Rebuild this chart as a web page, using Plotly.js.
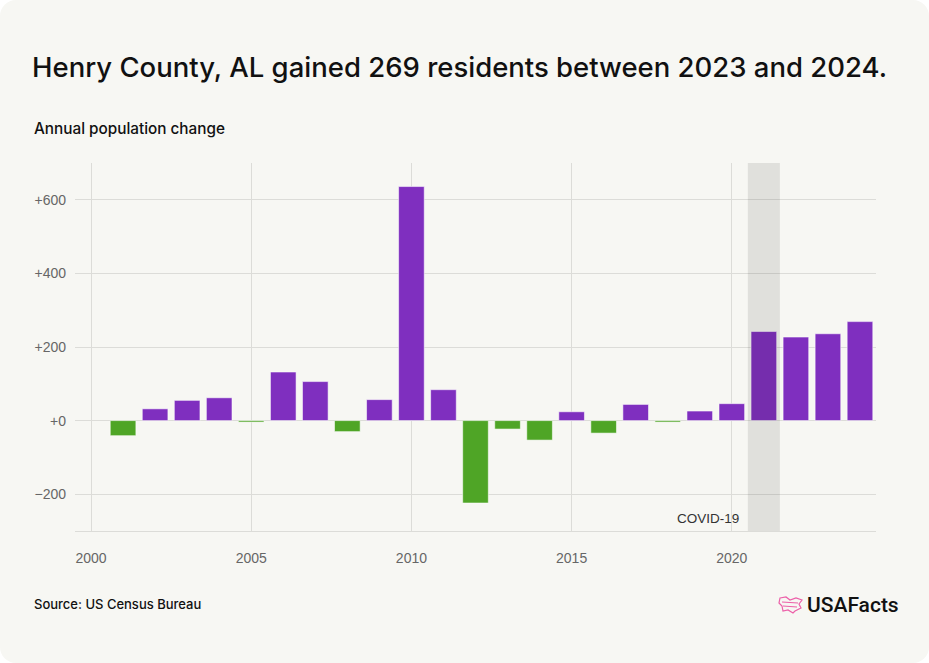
<!DOCTYPE html>
<html>
<head>
<meta charset="utf-8">
<script src="https://cdn.plot.ly/plotly-3.0.1.min.js"></script>
<style>
  html, body { margin: 0; padding: 0; background: #ffffff; }
  #card { position: absolute; left: 0; top: 0; width: 929px; height: 663px; background: #f7f7f3; border-radius: 16px; overflow: hidden; }
  #chart { width: 929px; height: 663px; }
</style>
</head>
<body>
<div id="card"><div id="chart"></div></div>
<script>
const years = [2001,2002,2003,2004,2005,2006,2007,2008,2009,2010,2011,2012,2013,2014,2015,2016,2017,2018,2019,2020,2021,2022,2023,2024];
const changes = [-41,32,55,62,-4,132,106,-30,57,636,84,-224,-23,-53,24,-34,44,-4,26,46,242,227,236,269];
const yTickVals = [-200,0,200,400,600];
const yTickText = ['\u2212200','+0','+200','+400','+600'];
const xTickVals = [2000,2005,2010,2015,2020];
const xTickText = ['2000','2005','2010','2015','2020'];
const covidYears = [2020.5, 2021.5];

const PURPLE = '#7f2fbf';
const GREEN = '#4fa526';
const colors = changes.map(v => v >= 0 ? PURPLE : GREEN);

const trace = {
  type: 'bar',
  x: years,
  y: changes,
  width: 0.8,
  marker: { color: colors, line: { color: 'rgba(255,255,255,0.55)', width: 1 } },
  hoverinfo: 'x+y'
};

const W = 929, H = 663, L = 75, R = 53, T = 163, B = 132;
const pw = W - L - R, ph = H - T - B;
const px = x => (x - L) / pw;
const py = y => (H - B - y) / ph;

const layout = {
  width: W, height: H,
  paper_bgcolor: 'rgba(0,0,0,0)',
  plot_bgcolor: 'rgba(0,0,0,0)',
  margin: { l: L, r: R, t: T, b: B, pad: 0 },
  showlegend: false,
  font: { family: 'Liberation Sans, Arial, sans-serif', color: '#666666', size: 14 },
  title: {
    text: 'Henry County, AL gained 269 residents between 2023 and 2024.',
    font: { family: 'Inter, sans-serif', size: 27.5, weight: 500, color: '#111111' },
    xref: 'container', yref: 'container',
    x: 32 / W, xanchor: 'left',
    y: 1 - 67 / H, yanchor: 'middle'
  },
  xaxis: {
    range: [1999.5, 2024.5],
    tickvals: xTickVals, ticktext: xTickText,
    showgrid: true, gridcolor: '#dcdcd8', gridwidth: 1,
    zeroline: false,
    showline: true, linecolor: '#dcdcd8', linewidth: 1,
    ticks: '', ticklabelstandoff: 14,
    tickfont: { size: 14, color: '#666666' },
    fixedrange: true
  },
  yaxis: {
    range: [-300, 700],
    tickvals: yTickVals, ticktext: yTickText,
    showgrid: true, gridcolor: '#dcdcd8', gridwidth: 1,
    zeroline: false, showline: false,
    ticks: '', ticklabelstandoff: 8,
    tickfont: { size: 14, color: '#666666' },
    fixedrange: true
  },
  shapes: [
    {
      type: 'rect', xref: 'x', yref: 'paper',
      x0: covidYears[0], x1: covidYears[1], y0: 0, y1: 1,
      fillcolor: 'rgba(28,28,24,0.1)', line: { width: 0 }, layer: 'above'
    },
    {
      type: 'path', xref: 'paper', yref: 'paper',
      path: 'M ' + px(780) + ',' + py(598) +
            ' L ' + px(786) + ',' + py(597) +
            ' L ' + px(790) + ',' + py(600) +
            ' L ' + px(796) + ',' + py(598) +
            ' L ' + px(802) + ',' + py(600) +
            ' L ' + px(799) + ',' + py(604) +
            ' L ' + px(801) + ',' + py(608) +
            ' L ' + px(795) + ',' + py(611) +
            ' L ' + px(793) + ',' + py(613) +
            ' L ' + px(788) + ',' + py(610) +
            ' L ' + px(783) + ',' + py(611) +
            ' L ' + px(782) + ',' + py(606) +
            ' L ' + px(779) + ',' + py(603) + ' Z',
      line: { color: '#ec5fa8', width: 1.2 }, fillcolor: 'rgba(0,0,0,0)'
    },
    {
      type: 'path', xref: 'paper', yref: 'paper',
      path: 'M ' + px(782) + ',' + py(602) + ' L ' + px(798) + ',' + py(603) +
            ' M ' + px(783) + ',' + py(606) + ' L ' + px(797) + ',' + py(607),
      line: { color: '#ec5fa8', width: 1 }
    }
  ],
  annotations: [
    {
      text: 'Annual population change', showarrow: false,
      xref: 'paper', yref: 'paper', x: px(32), y: py(128),
      xanchor: 'left', yanchor: 'middle',
      font: { family: 'Inter, sans-serif', size: 15.3, weight: 500, color: '#111111' }
    },
    {
      text: 'COVID-19', showarrow: false,
      xref: 'x', yref: 'paper', x: 2020.3, y: py(518),
      xanchor: 'right', yanchor: 'middle',
      font: { family: 'Liberation Sans, Arial, sans-serif', size: 13.5, color: '#333333' }
    },
    {
      text: 'Source: US Census Bureau', showarrow: false,
      xref: 'paper', yref: 'paper', x: px(32), y: py(604),
      xanchor: 'left', yanchor: 'middle',
      font: { family: 'Inter, sans-serif', size: 13, weight: 500, color: '#111111' }
    },
    {
      text: 'USAFacts', showarrow: false,
      xref: 'paper', yref: 'paper', x: px(805), y: py(605),
      xanchor: 'left', yanchor: 'middle',
      font: { family: 'Roboto, sans-serif', size: 21, weight: 500, color: '#111111' }
    }
  ],
  bargap: 0.2
};

Plotly.newPlot('chart', [trace], layout, { displayModeBar: false, staticPlot: true });
</script>
</body>
</html>
